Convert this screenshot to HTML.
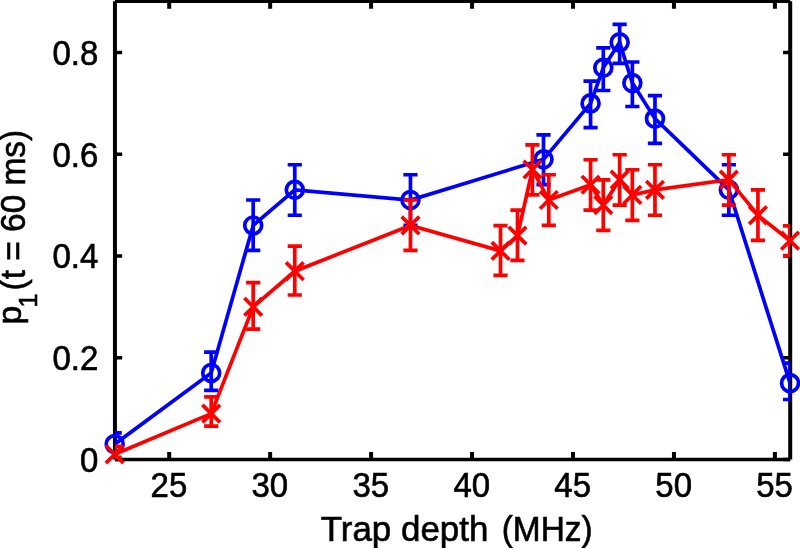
<!DOCTYPE html>
<html><head><meta charset="utf-8"><title>Trap depth</title>
<style>
html,body{margin:0;padding:0;background:#fff;}
svg{display:block;}
text{font-family:"Liberation Sans",Arial,Helvetica,sans-serif;font-size:34px;fill:#000;stroke:#000;stroke-width:0.6px;}
</style></head><body>
<svg width="800" height="548" viewBox="0 0 800 548">
<rect width="800" height="548" fill="#fff"/>
<defs><clipPath id="c"><rect x="114.95" y="1.15" width="675.25" height="458.25"/></clipPath></defs>
<path d="M114.95 1.15V459.4M790.2 1.15V459.4" fill="none" stroke="#000" stroke-width="4.0"/>
<path d="M114.95 1.15H790.2M114.95 459.4H790.2" fill="none" stroke="#000" stroke-width="3.5"/>
<path d="M169.20 459.4V451.9M169.20 1.15V8.65M270.15 459.4V451.9M270.15 1.15V8.65M371.10 459.4V451.9M371.10 1.15V8.65M472.05 459.4V451.9M472.05 1.15V8.65M573.00 459.4V451.9M573.00 1.15V8.65M673.95 459.4V451.9M673.95 1.15V8.65M774.90 459.4V451.9M774.90 1.15V8.65" stroke="#000" stroke-width="4.0" fill="none"/>
<path d="M114.95 459.40H122.15M790.2 459.40H783.0M114.95 357.68H122.15M790.2 357.68H783.0M114.95 255.96H122.15M790.2 255.96H783.0M114.95 154.24H122.15M790.2 154.24H783.0M114.95 52.52H122.15M790.2 52.52H783.0" stroke="#000" stroke-width="3.5" fill="none"/>
<g clip-path="url(#c)" stroke="#0000ff" stroke-width="3.7" fill="none">
<path d="M114.69 432.82V450.73M107.59 432.82H121.79M107.59 450.73H121.79"/>
<path d="M211.20 352.19V390.36M204.10 352.19H218.30M204.10 390.36H218.30"/>
<path d="M253.19 200.02V250.47M246.09 200.02H260.29M246.09 250.47H260.29"/>
<path d="M294.78 164.73V215.25M287.68 164.73H301.88M287.68 215.25H301.88"/>
<path d="M410.47 174.77V225.36M403.37 174.77H417.57M403.37 225.36H417.57"/>
<path d="M543.52 134.88V184.67M536.42 134.88H550.62M536.42 184.67H550.62"/>
<path d="M590.57 81.17V127.60M583.47 81.17H597.67M583.47 127.60H597.67"/>
<path d="M603.29 47.80V90.48M596.19 47.80H610.39M596.19 90.48H610.39"/>
<path d="M619.64 24.45V63.47M612.54 24.45H626.74M612.54 63.47H626.74"/>
<path d="M632.36 62.01V106.48M625.26 62.01H639.46M625.26 106.48H639.46"/>
<path d="M654.97 95.68V143.31M647.87 95.68H662.07M647.87 143.31H662.07"/>
<path d="M728.87 164.73V215.25M721.77 164.73H735.97M721.77 215.25H735.97"/>
<path d="M790.04 363.19V399.50M782.94 363.19H797.14M782.94 399.50H797.14"/>
<path d="M114.69 444.14L211.20 372.94L253.19 225.44L294.78 189.84L410.47 200.01L543.52 159.33L590.57 103.38L603.29 67.78L619.64 42.35L632.36 83.04L654.97 118.64L728.87 189.84L790.04 383.11" stroke-linejoin="miter"/>
</g>
<g stroke="#0000ff" stroke-width="3.7" fill="none">
<circle cx="114.69" cy="444.14" r="8.45"/>
<circle cx="211.20" cy="372.94" r="8.45"/>
<circle cx="253.19" cy="225.44" r="8.45"/>
<circle cx="294.78" cy="189.84" r="8.45"/>
<circle cx="410.47" cy="200.01" r="8.45"/>
<circle cx="543.52" cy="159.33" r="8.45"/>
<circle cx="590.57" cy="103.38" r="8.45"/>
<circle cx="603.29" cy="67.78" r="8.45"/>
<circle cx="619.64" cy="42.35" r="8.45"/>
<circle cx="632.36" cy="83.04" r="8.45"/>
<circle cx="654.97" cy="118.64" r="8.45"/>
<circle cx="728.87" cy="189.84" r="8.45"/>
<circle cx="790.04" cy="383.11" r="8.45"/>
</g>
<g clip-path="url(#c)" stroke="#ff0000" stroke-width="3.7" fill="none">
<path d="M114.69 446.24V457.45M107.59 446.24H121.79M107.59 457.45H121.79"/>
<path d="M211.20 396.93V426.19M204.10 396.93H218.30M204.10 426.19H218.30"/>
<path d="M253.19 282.60V329.03M246.09 282.60H260.29M246.09 329.03H260.29"/>
<path d="M294.78 246.12V295.01M287.68 246.12H301.88M287.68 295.01H301.88"/>
<path d="M410.47 200.02V250.47M403.37 200.02H417.57M403.37 250.47H417.57"/>
<path d="M500.52 225.53V275.32M493.42 225.53H507.62M493.42 275.32H507.62"/>
<path d="M517.48 210.19V260.44M510.38 210.19H524.58M510.38 260.44H524.58"/>
<path d="M532.42 144.79V194.91M525.32 144.79H539.52M525.32 194.91H539.52"/>
<path d="M548.77 174.77V225.36M541.67 174.77H555.87M541.67 225.36H555.87"/>
<path d="M590.57 159.73V210.18M583.47 159.73H597.67M583.47 210.18H597.67"/>
<path d="M603.29 179.80V230.40M596.19 179.80H610.39M596.19 230.40H610.39"/>
<path d="M619.64 154.74V205.10M612.54 154.74H626.74M612.54 205.10H626.74"/>
<path d="M632.36 169.74V220.31M625.26 169.74H639.46M625.26 220.31H639.46"/>
<path d="M654.97 164.73V215.25M647.87 164.73H662.07M647.87 215.25H662.07"/>
<path d="M728.87 154.74V205.10M721.77 154.74H735.97M721.77 205.10H735.97"/>
<path d="M757.94 189.89V240.46M750.84 189.89H765.04M750.84 240.46H765.04"/>
<path d="M790.04 225.90V255.70M782.94 225.90H797.14M782.94 255.70H797.14"/>
<path d="M114.69 454.31L211.20 413.63L253.19 306.82L294.78 271.22L410.47 225.44L500.52 250.87L517.48 235.62L532.42 169.50L548.77 200.01L590.57 184.76L603.29 205.10L619.64 179.67L632.36 194.93L654.97 189.84L728.87 179.67L757.94 215.27L790.04 240.70" stroke-linejoin="miter"/>
</g>
<g stroke="#ff0000" stroke-width="3.7" fill="none">
<path d="M105.89 445.51L123.49 463.11M105.89 463.11L123.49 445.51"/>
<path d="M202.40 404.83L220.00 422.43M202.40 422.43L220.00 404.83"/>
<path d="M244.39 298.02L261.99 315.62M244.39 315.62L261.99 298.02"/>
<path d="M285.98 262.42L303.58 280.02M285.98 280.02L303.58 262.42"/>
<path d="M401.67 216.64L419.27 234.24M401.67 234.24L419.27 216.64"/>
<path d="M491.72 242.07L509.32 259.67M491.72 259.67L509.32 242.07"/>
<path d="M508.68 226.82L526.28 244.42M508.68 244.42L526.28 226.82"/>
<path d="M523.62 160.70L541.22 178.30M523.62 178.30L541.22 160.70"/>
<path d="M539.97 191.21L557.57 208.81M539.97 208.81L557.57 191.21"/>
<path d="M581.77 175.96L599.37 193.56M581.77 193.56L599.37 175.96"/>
<path d="M594.49 196.30L612.09 213.90M594.49 213.90L612.09 196.30"/>
<path d="M610.84 170.87L628.44 188.47M610.84 188.47L628.44 170.87"/>
<path d="M623.56 186.13L641.16 203.73M623.56 203.73L641.16 186.13"/>
<path d="M646.17 181.04L663.77 198.64M646.17 198.64L663.77 181.04"/>
<path d="M720.07 170.87L737.67 188.47M720.07 188.47L737.67 170.87"/>
<path d="M749.14 206.47L766.74 224.07M749.14 224.07L766.74 206.47"/>
<path d="M781.24 231.90L798.84 249.50M781.24 249.50L798.84 231.90"/>
</g>
<g>
<text transform="translate(168.90,497) scale(0.97,1.045)" text-anchor="middle">25</text>
<text transform="translate(269.85,497) scale(0.97,1.045)" text-anchor="middle">30</text>
<text transform="translate(370.80,497) scale(0.97,1.045)" text-anchor="middle">35</text>
<text transform="translate(471.75,497) scale(0.97,1.045)" text-anchor="middle">40</text>
<text transform="translate(572.70,497) scale(0.97,1.045)" text-anchor="middle">45</text>
<text transform="translate(673.65,497) scale(0.97,1.045)" text-anchor="middle">50</text>
<text transform="translate(774.60,497) scale(0.97,1.045)" text-anchor="middle">55</text>
<text transform="translate(98.3,471.90) scale(0.97,1.045)" text-anchor="end">0</text>
<text transform="translate(98.3,370.18) scale(0.97,1.045)" text-anchor="end">0.2</text>
<text transform="translate(98.3,268.46) scale(0.97,1.045)" text-anchor="end">0.4</text>
<text transform="translate(98.3,166.74) scale(0.97,1.045)" text-anchor="end">0.6</text>
<text transform="translate(98.3,65.02) scale(0.97,1.045)" text-anchor="end">0.8</text>
<text transform="translate(320.8,540.7) scale(1.027,1.04)">Trap depth</text>
<text transform="translate(501.7,540.7) scale(0.984,1.04)">(MHz)</text>
<text transform="translate(21.3,324.6) rotate(-90) scale(1,0.985)">p</text>
<text transform="translate(36.5,307.5) rotate(-90) scale(1,1.04)" style="font-size:25px">1</text>
<text transform="translate(25.3,290.4) rotate(-90) scale(0.983,1.04)">(t = 60 ms)</text>
</g>
</svg>
</body></html>
